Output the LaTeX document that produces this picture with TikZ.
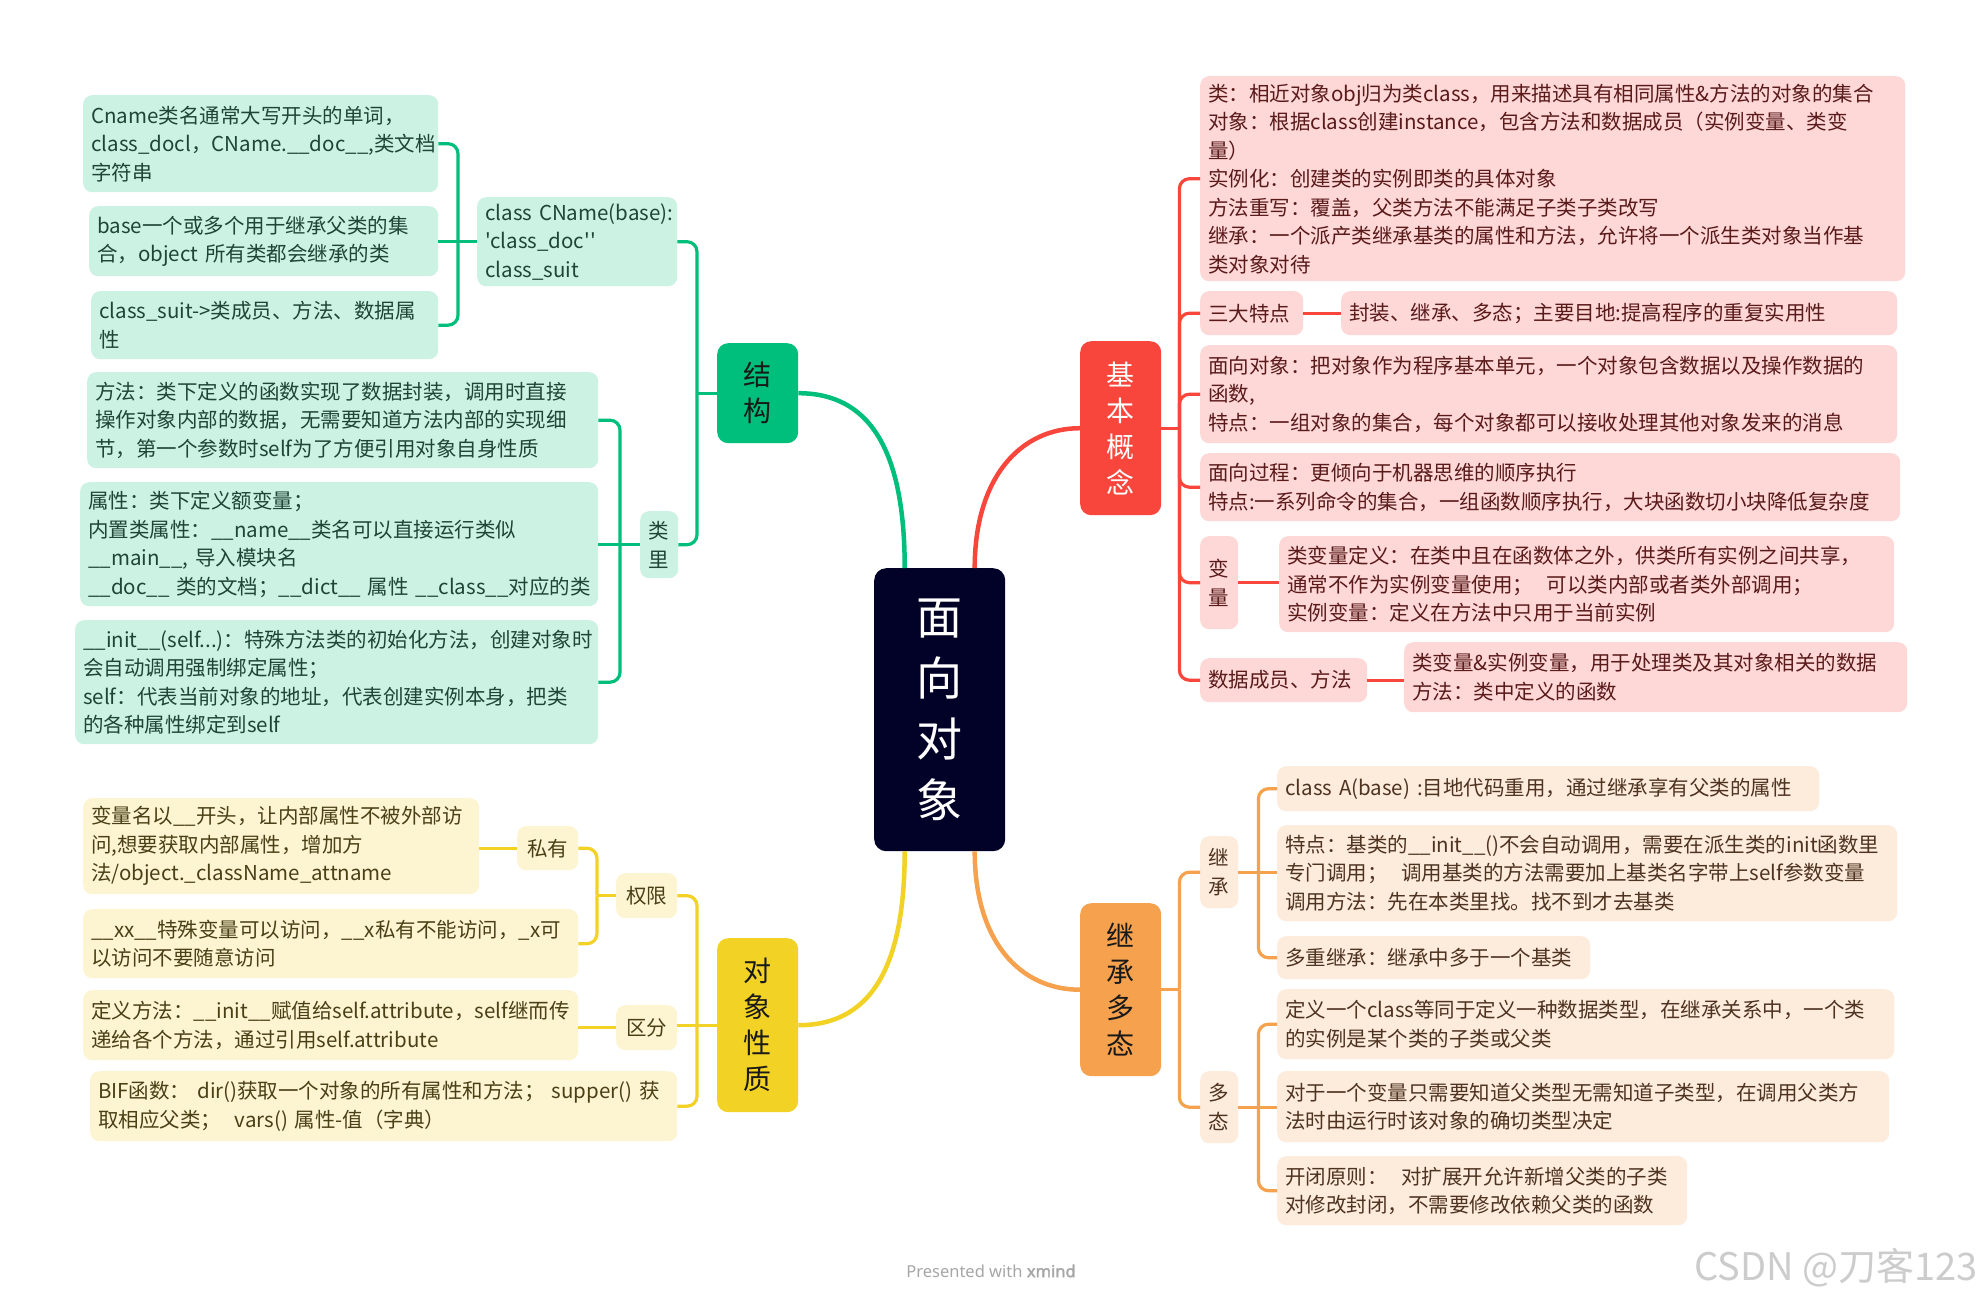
\documentclass[tikz,border=0pt]{standalone}
\usepackage{fontspec}
\setmainfont{Noto Sans CJK SC}
\newfontfamily\footfont{Noto Sans}
\newfontfamily\footboldfont{Noto Sans}[FakeBold=2]
\newfontfamily\qfont{Noto Sans CJK SC}[Ligatures=TeXOff]
\usetikzlibrary{calc}
\newcommand\fs{\fontsize{20.5}{28.5}\selectfont}
\definecolor{gmain}{HTML}{00BE7B}
\definecolor{gfill}{HTML}{CCF2E4}
\definecolor{gtext}{HTML}{1E4535}
\definecolor{rmain}{HTML}{F8463D}
\definecolor{rfill}{HTML}{FDD8D7}
\definecolor{rtext}{HTML}{5A1A1A}
\definecolor{ymain}{HTML}{F2D224}
\definecolor{yfill}{HTML}{FDF5D2}
\definecolor{ytext}{HTML}{4A4016}
\definecolor{omain}{HTML}{F5A14D}
\definecolor{ofill}{HTML}{FDEBDC}
\definecolor{otext}{HTML}{4E3320}
\definecolor{cdark}{HTML}{020228}
\begin{document}
\begin{tikzpicture}[x=1pt,y=-1pt,
  leaf/.style={anchor=north west, rounded corners=9pt, inner xsep=8pt, inner ysep=0pt, align=left, font=\fs},
  vleaf/.style={anchor=north west, rounded corners=9pt, inner sep=0pt, align=center, font=\fs},
  gleaf/.style={leaf, fill=gfill, text=gtext},
  rleaf/.style={leaf, fill=rfill, text=rtext},
  yleaf/.style={leaf, fill=yfill, text=ytext},
  oleaf/.style={leaf, fill=ofill, text=otext},
  gv/.style={vleaf, fill=gfill, text=gtext},
  rv/.style={vleaf, fill=rfill, text=rtext},
  yv/.style={vleaf, fill=yfill, text=ytext},
  ov/.style={vleaf, fill=ofill, text=otext},
  mainbox/.style={anchor=north west, rounded corners=11pt, inner sep=0pt, align=center, font=\fontsize{28}{36}\selectfont, minimum width=81pt},
  gl/.style={draw=gmain, line width=3.2pt, rounded corners=10pt},
  rl/.style={draw=rmain, line width=3.2pt, rounded corners=10pt},
  yl/.style={draw=ymain, line width=3.2pt, rounded corners=10pt},
  ol/.style={draw=omain, line width=3.2pt, rounded corners=10pt},
  mcurve/.style={line width=4.5pt}
]
\useasboundingbox (0,0) rectangle (1983,1303);
\fill[white] (0,0) rectangle (1983,1303);

% ---------- central node ----------
\node[anchor=north west, fill=cdark, rounded corners=12pt, minimum width=131pt, minimum height=283pt, inner sep=0pt, text=white, align=center, font=\fontsize{46}{61}\selectfont] (center) at (874,568) {面\\向\\对\\象};

% ---------- main branches ----------
\node[mainbox, fill=gmain, text=black!90, minimum height=100pt] (jiegou) at (717,343) {结\\构};
\node[mainbox, fill=rmain, text=white, minimum height=174pt] (jiben) at (1080,341) {基\\本\\概\\念};
\node[mainbox, fill=ymain, text=black!90, minimum height=174pt] (duixiang) at (717,938) {对\\象\\性\\质};
\node[mainbox, fill=omain, text=black!90, minimum height=173pt] (jichengm) at (1080,903) {继\\承\\多\\态};

% ---------- green ----------
\node[gleaf, text width=339pt, minimum height=97pt] (g1) at (83,95) {Cname类名通常大写开头的单词，\\class\_docl，CName.\_\_doc\_\_,类文档\\字符串};
\node[gleaf, text width=333pt, minimum height=70pt] (g2) at (89,206) {base一个或多个用于继承父类的集\\合，object 所有类都会继承的类};
\node[gleaf, text width=331pt, minimum height=68pt] (g3) at (91,291) {class\_suit->类成员、方法、数据属\\性};
\node[gleaf, text width=184pt, minimum height=89pt] (gclass) at (477,197) {class~CName(base):\\{\qfont 'class\_doc''}\\class\_suit};
\node[gleaf, text width=495pt, minimum height=96pt] (g4) at (87,372) {方法：类下定义的函数实现了数据封装，调用时直接\\操作对象内部的数据，无需要知道方法内部的实现细\\节，第一个参数时self为了方便引用对象自身性质};
\node[gleaf, text width=502pt, minimum height=124pt] (g5) at (80,482) {属性：类下定义额变量；\\内置类属性：\_\_name\_\_类名可以直接运行类似\\\_\_main\_\_, 导入模块名\\\_\_doc\_\_~类的文档；\_\_dict\_\_~属性~\_\_class\_\_对应的类};
\node[gleaf, text width=507pt, minimum height=124pt] (g6) at (75,620) {\_\_init\_\_(self...)：特殊方法类的初始化方法，创建对象时\\会自动调用强制绑定属性；\\self：代表当前对象的地址，代表创建实例本身，把类\\的各种属性绑定到self};
\node[gv, minimum width=38pt, minimum height=67pt] (leili) at (640,511) {类\\里};

% ---------- yellow ----------
\node[yleaf, text width=380pt, minimum height=96pt] (y1) at (83,798) {变量名以\_\_开头，让内部属性不被外部访\\问,想要获取内部属性，增加方\\法/object.\_className\_attname};
\node[yv, minimum width=61pt, minimum height=44pt] (siyou) at (517,826) {私有};
\node[yleaf, text width=479pt, minimum height=69pt] (y2) at (83,909) {\_\_xx\_\_特殊变量可以访问，\_\_x私有不能访问，\_x可\\以访问不要随意访问};
\node[yv, minimum width=61pt, minimum height=45pt] (quanxian) at (616,873) {权限};
\node[yleaf, text width=479pt, minimum height=70pt] (y3) at (83,990) {定义方法：\_\_init\_\_赋值给self.attribute，self继而传\\递给各个方法，通过引用self.attribute};
\node[yv, minimum width=61pt, minimum height=45pt] (qufen) at (616,1005) {区分};
\node[yleaf, text width=571pt, minimum height=70pt] (y4) at (90,1071) {BIF函数：~dir()获取一个对象的所有属性和方法；~supper()~获\\取相应父类；~~vars()~属性-值（字典）};

% ---------- red ----------
\node[rleaf, text width=689pt, minimum height=205pt] (r1) at (1200,76) {类：相近对象obj归为类class，用来描述具有相同属性\&方法的对象的集合\\对象：根据class创建instance，包含方法和数据成员（实例变量、类变\\量）\\实例化：创建类的实例即类的具体对象\\方法重写：覆盖，父类方法不能满足子类子类改写\\继承：一个派产类继承基类的属性和方法，允许将一个派生类对象当作基\\类对象对待};
\node[rleaf, text width=87pt, minimum height=44pt] (sanda) at (1200,291) {三大特点};
\node[rleaf, text width=540pt, minimum height=44pt] (r2) at (1341,291) {封装、继承、多态；主要目地:提高程序的重复实用性};
\node[rleaf, text width=681pt, minimum height=98pt] (r3) at (1200,345) {面向对象：把对象作为程序基本单元，一个对象包含数据以及操作数据的\\函数,\\特点：一组对象的集合，每个对象都可以接收处理其他对象发来的消息};
\node[rleaf, text width=684pt, minimum height=68pt] (r4) at (1200,453) {面向过程：更倾向于机器思维的顺序执行\\特点:一系列命令的集合，一组函数顺序执行，大块函数切小块降低复杂度};
\node[rv, minimum width=38pt, minimum height=93pt] (bianliang) at (1200,536) {变\\量};
\node[rleaf, text width=599pt, minimum height=96pt] (r5) at (1279,536) {类变量定义：在类中且在函数体之外，供类所有实例之间共享，\\通常不作为实例变量使用；~~可以类内部或者类外部调用；\\实例变量：定义在方法中只用于当前实例};
\node[rleaf, text width=151pt, minimum height=44pt] (shuju) at (1200,658) {数据成员、方法};
\node[rleaf, text width=487pt, minimum height=70pt] (r6) at (1404,642) {类变量\&实例变量，用于处理类及其对象相关的数据\\方法：类中定义的函数};

% ---------- orange ----------
\node[ov, minimum width=38pt, minimum height=72pt] (jicheng) at (1200,836) {继\\承};
\node[ov, minimum width=38pt, minimum height=72pt] (duotai) at (1200,1071) {多\\态};
\node[oleaf, text width=526pt, minimum height=45pt] (o1) at (1277,766) {class A(base) :目地代码重用，通过继承享有父类的属性};
\node[oleaf, text width=604pt, minimum height=96pt] (o2) at (1277,825) {特点：基类的\_\_init\_\_()不会自动调用，需要在派生类的init函数里\\专门调用；~~调用基类的方法需要加上基类名字带上self参数变量\\调用方法：先在本类里找。找不到才去基类};
\node[oleaf, text width=297pt, minimum height=43pt] (o3) at (1277,936) {多重继承：继承中多于一个基类};
\node[oleaf, text width=601pt, minimum height=70pt] (o4) at (1277,989) {定义一个class等同于定义一种数据类型，在继承关系中，一个类\\的实例是某个类的子类或父类};
\node[oleaf, text width=596pt, minimum height=71pt] (o5) at (1277,1071) {对于一个变量只需要知道父类型无需知道子类型，在调用父类方\\法时由运行时该对象的确切类型决定};
\node[oleaf, text width=394pt, minimum height=69pt] (o6) at (1277,1156) {开闭原则：~~对扩展开允许新增父类的子类\\对修改封闭，不需要修改依赖父类的函数};

% ---------- central curves ----------
\draw[mcurve, gmain] ([xshift=-35pt]center.north) .. controls +(0,-120) and +(70,0) .. (jiegou.east);
\draw[mcurve, rmain] ([xshift=35pt]center.north) .. controls +(0,-90) and +(-60,0) .. (jiben.west);
\draw[mcurve, ymain] ([xshift=-35pt]center.south) .. controls +(0,120) and +(70,0) .. (duixiang.east);
\draw[mcurve, omain] ([xshift=35pt]center.south) .. controls +(0,90) and +(-60,0) .. (jichengm.west);

% ---------- green connectors ----------
\coordinate (jG1) at ($(gclass.west)+(-19,0)$);
\draw[gl] (gclass.west) -- (jG1);
\draw[gl] (jG1) |- (g1.east);
\draw[gl] (jG1) -- (jG1 -| g2.east);
\draw[gl] (jG1) |- (g3.east);
\coordinate (jG) at ($(jiegou.west)+(-20,0)$);
\draw[gl] (jiegou.west) -- (jG);
\draw[gl] (jG) |- (gclass.east);
\draw[gl] (jG) |- (leili.east);
\coordinate (jL) at ($(leili.west)+(-20,0)$);
\draw[gl] (leili.west) -- (jL);
\draw[gl] (jL) |- (g4.east);
\draw[gl] (jL) -- (jL -| g5.east);
\draw[gl] (jL) |- (g6.east);

% ---------- yellow connectors ----------
\draw[yl] (siyou.west) -- (siyou.west -| y1.east);
\coordinate (jQ) at ($(quanxian.west)+(-19,0)$);
\draw[yl] (quanxian.west) -- (jQ);
\draw[yl] (jQ) |- (siyou.east);
\draw[yl] (jQ) |- (y2.east);
\coordinate (jY) at ($(duixiang.west)+(-20,0)$);
\draw[yl] (duixiang.west) -- (jY);
\draw[yl] (jY) |- (quanxian.east);
\draw[yl] (jY) -- (jY -| qufen.east);
\draw[yl] (jY) |- (y4.east);
\draw[yl] (qufen.west) -- (qufen.west -| y3.east);

% ---------- red connectors ----------
\coordinate (jR) at ($(jiben.east)+(18,0)$);
\draw[rl] (jiben.east) -- (jR);
\draw[rl] (jR) |- (r1.west);
\draw[rl] (jR) |- (sanda.west);
\draw[rl] (jR) |- (r3.west);
\draw[rl] (jR) |- (r4.west);
\draw[rl] (jR) |- (bianliang.west);
\draw[rl] (jR) |- (shuju.west);
\draw[rl] (sanda.east) -- (sanda.east -| r2.west);
\draw[rl] (bianliang.east) -- (bianliang.east -| r5.west);
\draw[rl] (shuju.east) -- (shuju.east -| r6.west);

% ---------- orange connectors ----------
\coordinate (jO) at ($(jichengm.east)+(18,0)$);
\draw[ol] (jichengm.east) -- (jO);
\draw[ol] (jO) |- (jicheng.west);
\draw[ol] (jO) |- (duotai.west);
\coordinate (jI) at ($(jicheng.east)+(20,0)$);
\draw[ol] (jicheng.east) -- (jI);
\draw[ol] (jI) |- (o1.west);
\draw[ol] (jI) -- (jI -| o2.west);
\draw[ol] (jI) |- (o3.west);
\coordinate (jD) at ($(duotai.east)+(20,0)$);
\draw[ol] (duotai.east) -- (jD);
\draw[ol] (jD) |- (o4.west);
\draw[ol] (jD) -- (jD -| o5.west);
\draw[ol] (jD) |- (o6.west);

% ---------- footer ----------
\node[font=\footfont\fontsize{16.5}{20}\selectfont, text=black!35] (foot) at (991,1271) {Presented with {\footboldfont xmind}};
\node[anchor=east, font=\fontsize{38}{44}\selectfont, text=black!20] (wm) at (1981,1268) {CSDN @刀客123};
\end{tikzpicture}
\end{document}
